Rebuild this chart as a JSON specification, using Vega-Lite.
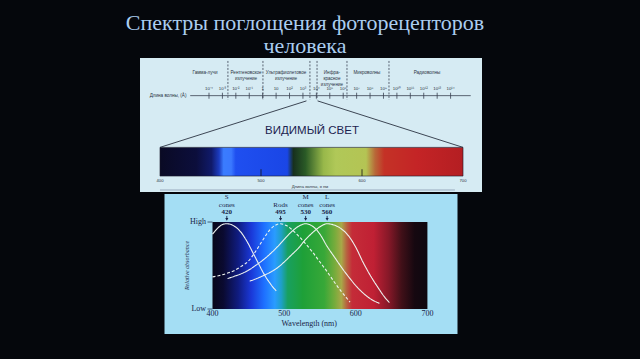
{
  "$schema": "https://vega.github.io/schema/vega-lite/v6.json",
  "background": "#05070c",
  "padding": {"left": 125, "top": 11, "right": 155, "bottom": 25},
  "title": {
    "text": ["Спектры поглощения фоторецепторов", "человека"],
    "font": "Liberation Serif",
    "fontSize": 22,
    "fontWeight": "normal",
    "color": "#abcdf0",
    "anchor": "middle",
    "dx": -6,
    "lineHeight": 23.5,
    "offset": 0
  },
  "config": {"view": {"stroke": null}},
  "spacing": 0,
  "center": true,
  "datasets": {
    "regions": [
      {"name": "Гамма-лучи", "e": -4.3},
      {"name": "Рентгеновское\nизлучение", "e": -1.24},
      {"name": "Ультрафиолетовое\nизлучение", "e": 1.74},
      {"name": "Инфра-\nкрасное\nизлучение", "e": 5.16},
      {"name": "Микроволны", "e": 7.77},
      {"name": "Радиоволны", "e": 12.24}
    ],
    "bounds": [{"e": -2.59}, {"e": 0.02}, {"e": 3.52}, {"e": 4.05}, {"e": 6.28}, {"e": 9.41}],
    "decades": [
      {"e": -4, "label": "10⁻⁴"}, {"e": -3, "label": "10⁻³"}, {"e": -2, "label": "10⁻²"}, {"e": -1, "label": "10⁻¹"},
      {"e": 0, "label": "1"}, {"e": 1, "label": "10"}, {"e": 2, "label": "10²"}, {"e": 3, "label": "10³"},
      {"e": 4, "label": "10⁴"}, {"e": 5, "label": "10⁵"}, {"e": 6, "label": "10⁶"}, {"e": 7, "label": "10⁷"},
      {"e": 8, "label": "10⁸"}, {"e": 9, "label": "10⁹"}, {"e": 10, "label": "10¹⁰"}, {"e": 11, "label": "10¹¹"},
      {"e": 12, "label": "10¹²"}, {"e": 13, "label": "10¹³"}, {"e": 14, "label": "10¹⁴"}
    ],
    "zoomLines": [{"from": 545, "to": 400}, {"from": 556, "to": 700}],
    "nmTicks": [{"nm": 400}, {"nm": 500}, {"nm": 600}, {"nm": 700}],
    "cones": [
      {"nm": 420, "letter": "S", "kind": "cones", "peak": "420"},
      {"nm": 495, "letter": "", "kind": "Rods", "peak": "495"},
      {"nm": 530, "letter": "M", "kind": "cones", "peak": "530"},
      {"nm": 560, "letter": "L", "kind": "cones", "peak": "560"}
    ],
    "levels": [{"lvl": "High", "a": 1}, {"lvl": "Low", "a": 0}],
    "curves": [
      {"c": "S", "nm": 400, "a": 0.86}, {"c": "S", "nm": 405, "a": 0.91}, {"c": "S", "nm": 410, "a": 0.95},
      {"c": "S", "nm": 415, "a": 0.975}, {"c": "S", "nm": 420, "a": 0.98}, {"c": "S", "nm": 425, "a": 0.975},
      {"c": "S", "nm": 430, "a": 0.955}, {"c": "S", "nm": 435, "a": 0.925}, {"c": "S", "nm": 440, "a": 0.88},
      {"c": "S", "nm": 445, "a": 0.82}, {"c": "S", "nm": 450, "a": 0.75}, {"c": "S", "nm": 455, "a": 0.67},
      {"c": "S", "nm": 460, "a": 0.59}, {"c": "S", "nm": 465, "a": 0.51}, {"c": "S", "nm": 470, "a": 0.43},
      {"c": "S", "nm": 475, "a": 0.36}, {"c": "S", "nm": 480, "a": 0.3}, {"c": "S", "nm": 485, "a": 0.245},
      {"c": "S", "nm": 489, "a": 0.21},
      {"c": "Rods", "nm": 400, "a": 0.37}, {"c": "Rods", "nm": 410, "a": 0.385}, {"c": "Rods", "nm": 420, "a": 0.41},
      {"c": "Rods", "nm": 430, "a": 0.44}, {"c": "Rods", "nm": 440, "a": 0.49}, {"c": "Rods", "nm": 450, "a": 0.55},
      {"c": "Rods", "nm": 460, "a": 0.66}, {"c": "Rods", "nm": 470, "a": 0.79}, {"c": "Rods", "nm": 480, "a": 0.91},
      {"c": "Rods", "nm": 487, "a": 0.96}, {"c": "Rods", "nm": 495, "a": 0.98}, {"c": "Rods", "nm": 503, "a": 0.96},
      {"c": "Rods", "nm": 510, "a": 0.92}, {"c": "Rods", "nm": 520, "a": 0.84}, {"c": "Rods", "nm": 530, "a": 0.75},
      {"c": "Rods", "nm": 540, "a": 0.65}, {"c": "Rods", "nm": 550, "a": 0.54}, {"c": "Rods", "nm": 560, "a": 0.43},
      {"c": "Rods", "nm": 570, "a": 0.31}, {"c": "Rods", "nm": 580, "a": 0.2}, {"c": "Rods", "nm": 592, "a": 0.08},
      {"c": "M", "nm": 421, "a": 0.35}, {"c": "M", "nm": 430, "a": 0.375}, {"c": "M", "nm": 440, "a": 0.405},
      {"c": "M", "nm": 450, "a": 0.445}, {"c": "M", "nm": 460, "a": 0.5}, {"c": "M", "nm": 470, "a": 0.56},
      {"c": "M", "nm": 480, "a": 0.63}, {"c": "M", "nm": 490, "a": 0.71}, {"c": "M", "nm": 500, "a": 0.8},
      {"c": "M", "nm": 510, "a": 0.885}, {"c": "M", "nm": 520, "a": 0.95}, {"c": "M", "nm": 530, "a": 0.98},
      {"c": "M", "nm": 540, "a": 0.95}, {"c": "M", "nm": 550, "a": 0.86}, {"c": "M", "nm": 560, "a": 0.72},
      {"c": "M", "nm": 570, "a": 0.6}, {"c": "M", "nm": 580, "a": 0.48}, {"c": "M", "nm": 590, "a": 0.37},
      {"c": "M", "nm": 600, "a": 0.27}, {"c": "M", "nm": 610, "a": 0.185}, {"c": "M", "nm": 620, "a": 0.12},
      {"c": "M", "nm": 633, "a": 0.065},
      {"c": "L", "nm": 452, "a": 0.32}, {"c": "L", "nm": 460, "a": 0.345}, {"c": "L", "nm": 470, "a": 0.38},
      {"c": "L", "nm": 480, "a": 0.42}, {"c": "L", "nm": 490, "a": 0.47}, {"c": "L", "nm": 500, "a": 0.54},
      {"c": "L", "nm": 510, "a": 0.62}, {"c": "L", "nm": 520, "a": 0.7}, {"c": "L", "nm": 530, "a": 0.8},
      {"c": "L", "nm": 540, "a": 0.88}, {"c": "L", "nm": 550, "a": 0.945}, {"c": "L", "nm": 560, "a": 0.98},
      {"c": "L", "nm": 570, "a": 0.965}, {"c": "L", "nm": 580, "a": 0.92}, {"c": "L", "nm": 590, "a": 0.84},
      {"c": "L", "nm": 600, "a": 0.71}, {"c": "L", "nm": 610, "a": 0.54}, {"c": "L", "nm": 620, "a": 0.39},
      {"c": "L", "nm": 630, "a": 0.26}, {"c": "L", "nm": 640, "a": 0.14}, {"c": "L", "nm": 647, "a": 0.075}
    ]
  },
  "vconcat": [
    {
      "width": 342,
      "height": 134,
      "view": {"fill": "#d6ebf3", "stroke": null},
      "resolve": {"scale": {"x": "independent"}},
      "layer": [
        {
          "data": {"name": "regions"},
          "mark": {"type": "text", "font": "Liberation Sans", "fontSize": 4.6, "lineHeight": 5.6, "lineBreak": "\n", "color": "#2b3342", "baseline": "middle"},
          "encoding": {
            "x": {"field": "e", "type": "quantitative", "scale": {"domain": [-9.14, 16.34], "nice": false, "zero": false}, "axis": null},
            "y": {"datum": 0.885, "type": "quantitative", "scale": {"domain": [0, 1]}, "axis": null},
            "text": {"field": "name"}
          }
        },
        {
          "data": {"name": "bounds"},
          "mark": {"type": "rule", "color": "#3a4152", "strokeWidth": 0.8, "strokeDash": [2, 1.5]},
          "encoding": {
            "x": {"field": "e", "type": "quantitative", "scale": {"domain": [-9.14, 16.34], "nice": false, "zero": false}, "axis": null},
            "y": {"datum": 0.978, "type": "quantitative"},
            "y2": {"datum": 0.689}
          }
        },
        {
          "data": {"values": [{}]},
          "mark": {"type": "rule", "color": "#3a4152", "strokeWidth": 0.8},
          "encoding": {
            "x": {"datum": -5.4, "type": "quantitative", "scale": {"domain": [-9.14, 16.34], "nice": false, "zero": false}, "axis": null},
            "x2": {"datum": 15.5},
            "y": {"datum": 0.719, "type": "quantitative"}
          }
        },
        {
          "data": {"name": "decades"},
          "mark": {"type": "rule", "color": "#3a4152", "strokeWidth": 0.8},
          "encoding": {
            "x": {"field": "e", "type": "quantitative", "scale": {"domain": [-9.14, 16.34], "nice": false, "zero": false}, "axis": null},
            "y": {"datum": 0.741, "type": "quantitative"},
            "y2": {"datum": 0.696}
          }
        },
        {
          "data": {"name": "decades"},
          "mark": {"type": "text", "font": "Liberation Sans", "fontSize": 4.4, "color": "#2b3342", "baseline": "middle"},
          "encoding": {
            "x": {"field": "e", "type": "quantitative", "scale": {"domain": [-9.14, 16.34], "nice": false, "zero": false}, "axis": null},
            "y": {"datum": 0.772, "type": "quantitative"},
            "text": {"field": "label"}
          }
        },
        {
          "data": {"values": [{"label": "Длина волны, (Å)"}]},
          "mark": {"type": "text", "font": "Liberation Sans", "fontSize": 4.6, "color": "#2b3342", "baseline": "middle"},
          "encoding": {
            "x": {"datum": -7.05, "type": "quantitative", "scale": {"domain": [-9.14, 16.34], "nice": false, "zero": false}, "axis": null},
            "y": {"datum": 0.719, "type": "quantitative"},
            "text": {"field": "label"}
          }
        },
        {
          "data": {"name": "zoomLines"},
          "mark": {"type": "rule", "color": "#2b3342", "strokeWidth": 0.9},
          "encoding": {
            "x": {"field": "from", "type": "quantitative", "scale": {"domain": [380.2, 718.8], "nice": false, "zero": false}, "axis": null},
            "x2": {"field": "to"},
            "y": {"datum": 0.68, "type": "quantitative"},
            "y2": {"datum": 0.333}
          }
        },
        {
          "data": {"values": [{"label": "ВИДИМЫЙ СВЕТ"}]},
          "mark": {"type": "text", "font": "Liberation Sans", "fontSize": 11.5, "color": "#1c2350", "baseline": "middle"},
          "encoding": {
            "x": {"datum": 550.5, "type": "quantitative", "scale": {"domain": [380.2, 718.8], "nice": false, "zero": false}, "axis": null},
            "y": {"datum": 0.452, "type": "quantitative"},
            "text": {"field": "label"}
          }
        },
        {
          "data": {"values": [{}]},
          "mark": {
            "type": "rect",
            "stroke": "#1a1a2a",
            "strokeWidth": 0.6,
            "fill": {
              "gradient": "linear", "x1": 0, "y1": 0, "x2": 1, "y2": 0,
              "stops": [
                {"offset": 0, "color": "#0a0a24"},
                {"offset": 0.12, "color": "#0c0e3c"},
                {"offset": 0.17, "color": "#101a6a"},
                {"offset": 0.195, "color": "#1c3cc0"},
                {"offset": 0.21, "color": "#3a7cff"},
                {"offset": 0.235, "color": "#3a78ff"},
                {"offset": 0.25, "color": "#1f4ff0"},
                {"offset": 0.42, "color": "#1a46e6"},
                {"offset": 0.44, "color": "#17301e"},
                {"offset": 0.48, "color": "#2a5a26"},
                {"offset": 0.54, "color": "#98b84a"},
                {"offset": 0.58, "color": "#b0c858"},
                {"offset": 0.68, "color": "#b4c454"},
                {"offset": 0.71, "color": "#b86838"},
                {"offset": 0.74, "color": "#c43226"},
                {"offset": 0.85, "color": "#c42426"},
                {"offset": 1, "color": "#b41e22"}
              ]
            }
          },
          "encoding": {
            "x": {"datum": 400, "type": "quantitative", "scale": {"domain": [380.2, 718.8], "nice": false, "zero": false}, "axis": null},
            "x2": {"datum": 700},
            "y": {"datum": 0.333, "type": "quantitative"},
            "y2": {"datum": 0.119}
          }
        },
        {
          "data": {"values": [{"nm": 500}, {"nm": 600}]},
          "mark": {"type": "rule", "color": "#151515", "strokeWidth": 0.8},
          "encoding": {
            "x": {"field": "nm", "type": "quantitative", "scale": {"domain": [380.2, 718.8], "nice": false, "zero": false}, "axis": null},
            "y": {"datum": 0.17, "type": "quantitative"},
            "y2": {"datum": 0.119}
          }
        },
        {
          "data": {"name": "nmTicks"},
          "mark": {"type": "text", "font": "Liberation Sans", "fontSize": 4.2, "color": "#2b3342", "baseline": "middle"},
          "encoding": {
            "x": {"field": "nm", "type": "quantitative", "scale": {"domain": [380.2, 718.8], "nice": false, "zero": false}, "axis": null},
            "y": {"datum": 0.083, "type": "quantitative"},
            "text": {"field": "nm"}
          }
        },
        {
          "data": {"values": [{"label": "Длина волны, в нм"}]},
          "mark": {"type": "text", "font": "Liberation Sans", "fontSize": 4.2, "color": "#2b3342", "baseline": "middle"},
          "encoding": {
            "x": {"datum": 548.5, "type": "quantitative", "scale": {"domain": [380.2, 718.8], "nice": false, "zero": false}, "axis": null},
            "y": {"datum": 0.04, "type": "quantitative"},
            "text": {"field": "label"}
          }
        },
        {
          "data": {"values": [{}]},
          "mark": {"type": "rule", "color": "#8a9cb0", "strokeWidth": 0.8},
          "encoding": {
            "x": {"datum": 400, "type": "quantitative", "scale": {"domain": [380.2, 718.8], "nice": false, "zero": false}, "axis": null},
            "x2": {"datum": 692},
            "y": {"datum": 0.015, "type": "quantitative"}
          }
        }
      ]
    },
    {
      "width": 293,
      "height": 140,
      "view": {"fill": "#a4def4", "stroke": null},
      "layer": [
        {
          "data": {"values": [{}]},
          "mark": {
            "type": "rect",
            "fill": {
              "gradient": "linear", "x1": 0, "y1": 0, "x2": 1, "y2": 0,
              "stops": [
                {"offset": 0, "color": "#08081a"},
                {"offset": 0.05, "color": "#0a0a30"},
                {"offset": 0.12, "color": "#101c80"},
                {"offset": 0.18, "color": "#1a38d8"},
                {"offset": 0.24, "color": "#1e70ff"},
                {"offset": 0.29, "color": "#2a9cff"},
                {"offset": 0.32, "color": "#1ea0c8"},
                {"offset": 0.35, "color": "#18a060"},
                {"offset": 0.42, "color": "#1ea038"},
                {"offset": 0.52, "color": "#38a838"},
                {"offset": 0.57, "color": "#78ac3c"},
                {"offset": 0.6, "color": "#a8a848"},
                {"offset": 0.625, "color": "#b86040"},
                {"offset": 0.65, "color": "#c42c38"},
                {"offset": 0.75, "color": "#c02034"},
                {"offset": 0.82, "color": "#861828"},
                {"offset": 0.88, "color": "#401018"},
                {"offset": 0.94, "color": "#160810"},
                {"offset": 1, "color": "#0e0810"}
              ]
            }
          },
          "encoding": {
            "x": {"datum": 400, "type": "quantitative", "scale": {"domain": [333, 742], "nice": false, "zero": false}, "axis": null},
            "x2": {"datum": 700},
            "y": {"datum": 0, "type": "quantitative", "scale": {"domain": [-0.287, 1.322], "nice": false, "zero": false}, "axis": null},
            "y2": {"datum": 1}
          }
        },
        {
          "data": {"name": "curves"},
          "mark": {"type": "line", "color": "#eef3f0", "strokeWidth": 1.1, "interpolate": "monotone"},
          "encoding": {
            "x": {"field": "nm", "type": "quantitative"},
            "y": {"field": "a", "type": "quantitative"},
            "detail": {"field": "c"},
            "strokeDash": {"field": "c", "type": "nominal", "scale": {"domain": ["S", "Rods", "M", "L"], "range": [[1, 0], [3, 2], [1, 0], [1, 0]]}, "legend": null}
          }
        },
        {
          "data": {"name": "cones"},
          "mark": {"type": "text", "font": "Liberation Serif", "fontSize": 7, "color": "#1a2548", "baseline": "middle"},
          "encoding": {
            "x": {"field": "nm", "type": "quantitative"},
            "y": {"datum": 1.29, "type": "quantitative"},
            "text": {"field": "letter"}
          }
        },
        {
          "data": {"name": "cones"},
          "mark": {"type": "text", "font": "Liberation Serif", "fontSize": 7, "color": "#1a2548", "baseline": "middle"},
          "encoding": {
            "x": {"field": "nm", "type": "quantitative"},
            "y": {"datum": 1.2, "type": "quantitative"},
            "text": {"field": "kind"}
          }
        },
        {
          "data": {"name": "cones"},
          "mark": {"type": "text", "font": "Liberation Serif", "fontSize": 7, "fontWeight": "bold", "color": "#1a2548", "baseline": "middle"},
          "encoding": {
            "x": {"field": "nm", "type": "quantitative"},
            "y": {"datum": 1.11, "type": "quantitative"},
            "text": {"field": "peak"}
          }
        },
        {
          "data": {"name": "cones"},
          "mark": {"type": "rule", "color": "#1a2548", "strokeWidth": 0.9},
          "encoding": {
            "x": {"field": "nm", "type": "quantitative"},
            "y": {"datum": 1.07, "type": "quantitative"},
            "y2": {"datum": 1.035}
          }
        },
        {
          "data": {"name": "cones"},
          "mark": {"type": "point", "shape": "triangle-down", "filled": true, "size": 10, "color": "#1a2548", "opacity": 1},
          "encoding": {
            "x": {"field": "nm", "type": "quantitative"},
            "y": {"datum": 1.03, "type": "quantitative"}
          }
        },
        {
          "data": {"name": "nmTicks"},
          "mark": {"type": "text", "font": "Liberation Serif", "fontSize": 8, "color": "#1a2548", "baseline": "middle"},
          "encoding": {
            "x": {"field": "nm", "type": "quantitative"},
            "y": {"datum": -0.06, "type": "quantitative"},
            "text": {"field": "nm"}
          }
        },
        {
          "data": {"values": [{"label": "Wavelength (nm)"}]},
          "mark": {"type": "text", "font": "Liberation Serif", "fontSize": 8, "color": "#1a2548", "baseline": "middle"},
          "encoding": {
            "x": {"datum": 535, "type": "quantitative"},
            "y": {"datum": -0.17, "type": "quantitative"},
            "text": {"field": "label"}
          }
        },
        {
          "data": {"name": "levels"},
          "mark": {"type": "text", "font": "Liberation Serif", "fontSize": 8, "color": "#1a2548", "baseline": "middle", "align": "right"},
          "encoding": {
            "x": {"datum": 391, "type": "quantitative"},
            "y": {"field": "a", "type": "quantitative"},
            "text": {"field": "lvl"}
          }
        },
        {
          "data": {"name": "levels"},
          "mark": {"type": "rule", "color": "#1a2548", "strokeWidth": 0.7},
          "encoding": {
            "x": {"datum": 393, "type": "quantitative"},
            "x2": {"datum": 400},
            "y": {"field": "a", "type": "quantitative"}
          }
        },
        {
          "data": {"values": [{"label": "Relative absorbance"}]},
          "mark": {"type": "text", "font": "Liberation Serif", "fontSize": 6, "fontStyle": "italic", "color": "#1a2548", "baseline": "middle", "angle": 270},
          "encoding": {
            "x": {"datum": 365, "type": "quantitative"},
            "y": {"datum": 0.5, "type": "quantitative"},
            "text": {"field": "label"}
          }
        }
      ]
    }
  ]
}
